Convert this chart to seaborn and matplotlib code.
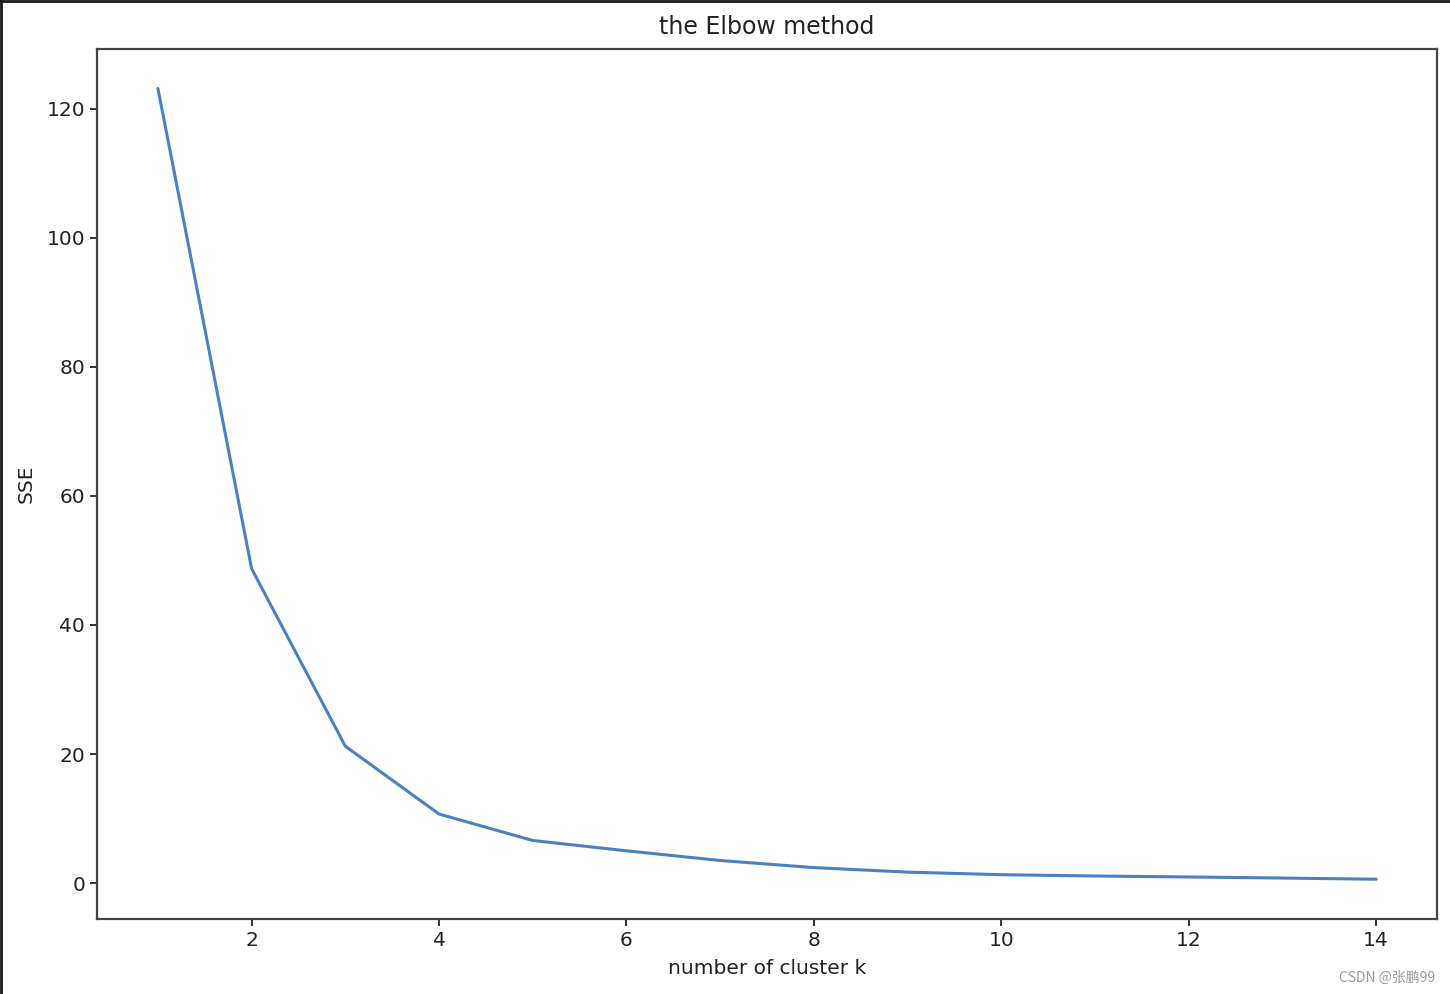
import matplotlib
matplotlib.use('Agg')
import matplotlib.pyplot as plt
import seaborn as sns
import pandas as pd
from matplotlib.lines import Line2D

# SSE per number of clusters
k_values = [1, 2, 3, 4, 5, 6, 7, 8, 9, 10, 11, 12, 13, 14]
sse = [123.1, 48.7, 21.2, 10.7, 6.6, 5.0, 3.5, 2.4, 1.7, 1.3, 1.1, 0.95, 0.78, 0.6]

df = pd.DataFrame({'k': k_values, 'SSE': sse})

sns.set_style('ticks')
plt.rcParams['font.family'] = ['DejaVu Sans', 'Noto Sans CJK SC']

fig = plt.figure(figsize=(14.5, 9.94), dpi=100)
ax = fig.add_axes([0.0669, 0.0757, 0.9242, 0.875])

sns.lineplot(data=df, x='k', y='SSE', ax=ax, color='#4a82bf', linewidth=2.2)

ax.set_xticks([2, 4, 6, 8, 10, 12, 14])
ax.set_yticks([0, 20, 40, 60, 80, 100, 120])
ax.set_title('the Elbow method', fontsize=17, color='#222222', pad=11)
ax.set_xlabel('number of cluster k', fontsize=14.5, color='#222222', labelpad=7)
ax.set_ylabel('SSE', fontsize=14.5, color='#222222', labelpad=8)
ax.tick_params(labelsize=14.5, length=5, width=1.4, colors='#333333',
               labelcolor='#222222')
for sp in ax.spines.values():
    sp.set_visible(True)
    sp.set_color('#444444')
    sp.set_linewidth(1.6)

# dark frame on the top and left edges of the screenshot
fig.add_artist(Line2D([0, 1], [0.999, 0.999], transform=fig.transFigure,
                      color='#1a1a1a', linewidth=2))
fig.add_artist(Line2D([0.0007, 0.0007], [0, 1], transform=fig.transFigure,
                      color='#1a1a1a', linewidth=2))

fig.text(0.99, 0.009, 'CSDN @张鹏99', ha='right', va='bottom', fontsize=10,
         color='#9a9a9a', family=['Noto Sans CJK SC', 'DejaVu Sans'])

fig.savefig('out.png', dpi=100)
